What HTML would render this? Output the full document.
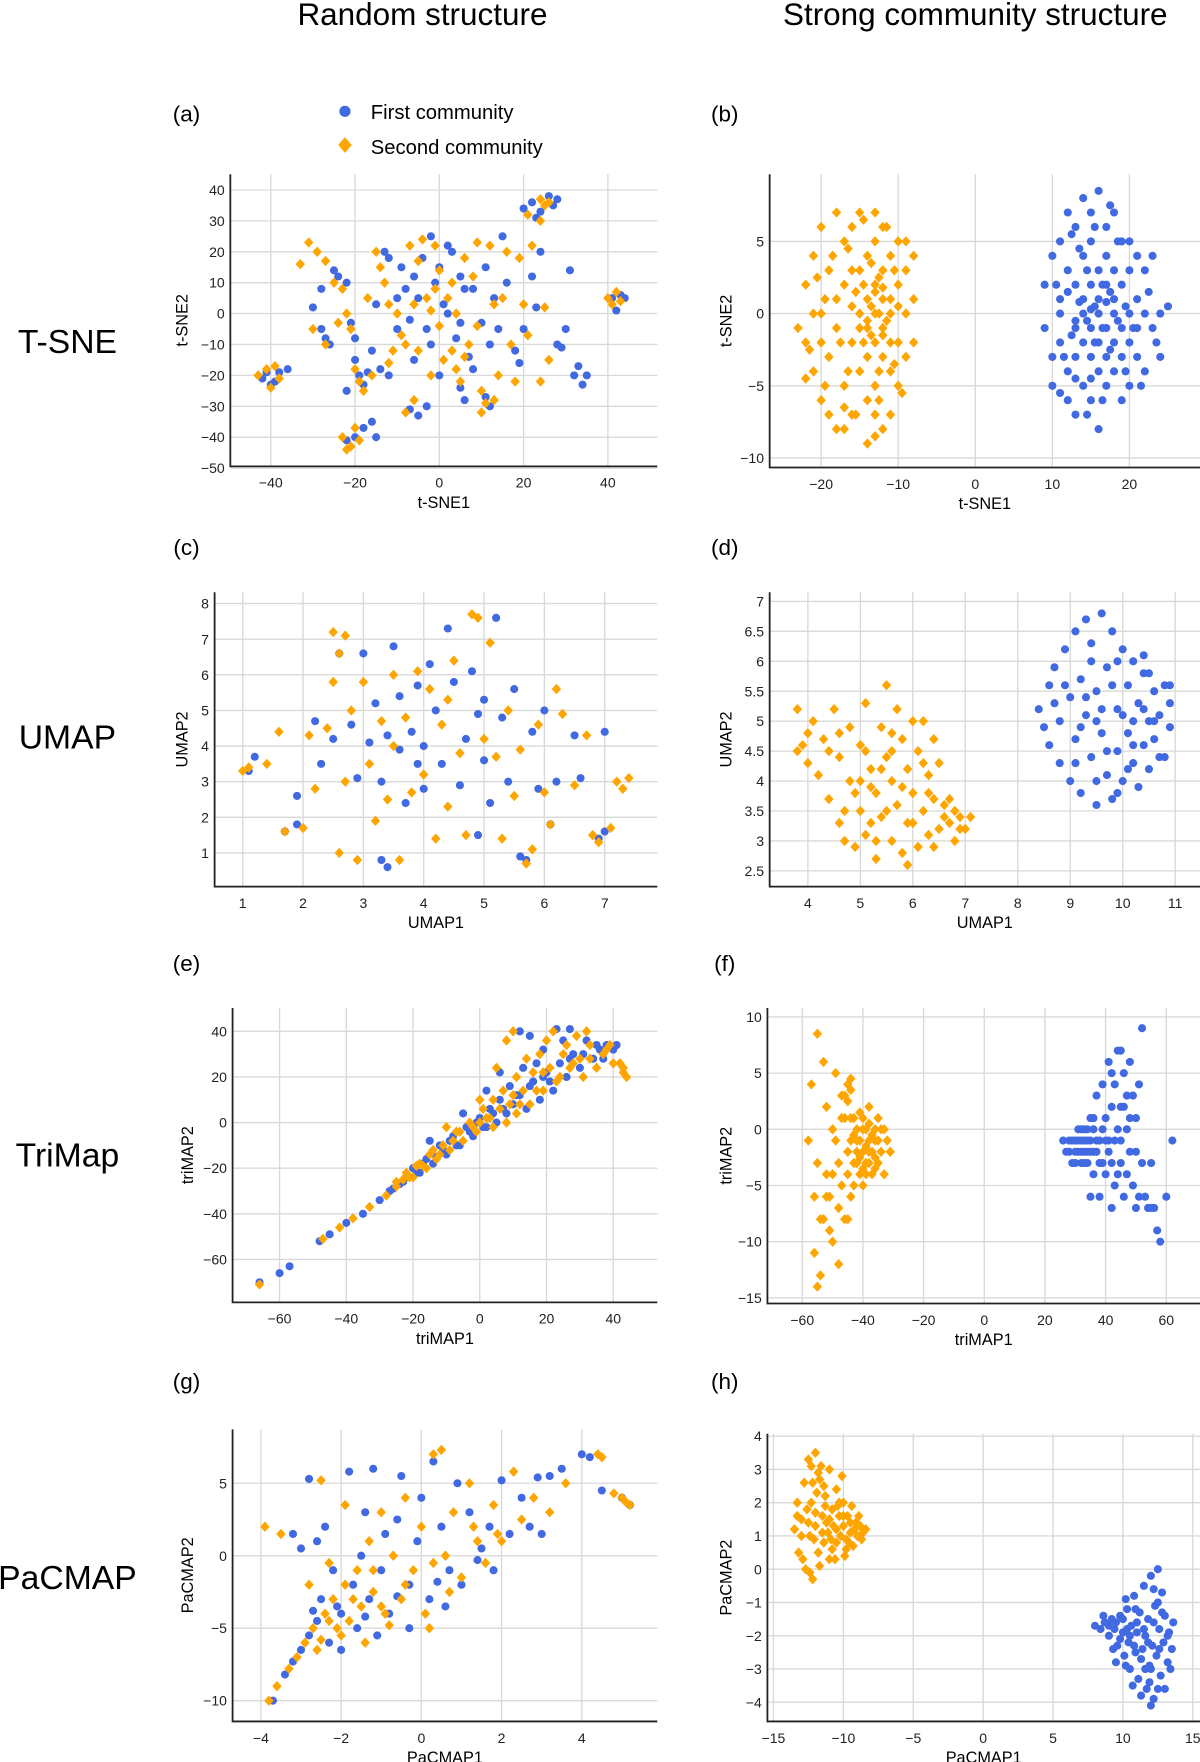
<!DOCTYPE html>
<html><head><meta charset="utf-8"><style>
html,body{margin:0;padding:0;background:#fff;}
svg{display:block;font-family:"Liberation Sans",Arial,sans-serif;}
</style></head><body>
<svg id="fig" width="1200" height="1762" viewBox="0 0 1068 1568" xmlns="http://www.w3.org/2000/svg">
<text x="376" y="22" font-size="28" text-anchor="middle">Random structure</text>
<text x="868" y="22" font-size="28" text-anchor="middle">Strong community structure</text>
<text x="60" y="314" font-size="30" text-anchor="middle">T-SNE</text>
<text x="60" y="666" font-size="30" text-anchor="middle">UMAP</text>
<text x="60" y="1038" font-size="30" text-anchor="middle">TriMap</text>
<text x="60" y="1414" font-size="30" text-anchor="middle">PaCMAP</text>
<g>
<circle cx="307" cy="99" r="5" fill="#4169E1"/>
<text x="330" y="106" font-size="18">First community</text>
<path d="M307 122 L313 129 L307 136 L301 129 Z" fill="#FFA500"/>
<text x="330" y="137" font-size="18">Second community</text>
</g>
</svg>
<script>
// ---- data (data coordinates) ----
const aBlue=[[20,34],[22,36],[24,33],[26,38],[28,37],[23,31],[27,35],[-42,-21],[-40,-23],[-38,-19],[-36,-18],[-39,-22],[-41,-19],[-22,-41],[-20,-40],[-18,-37],[-16,-35],[-15,-40],[41,5],[43,6],[42,1],[44,5],[-30,2],[-28,-5],[-27,-8],[-26,-10],[-28,8],[-25,14],[-24,12],[-22,10],[-21,-3],[-20,-8],[-19,-20],[-18,-23],[-22,-25],[-20,-15],[-17,-19],[-14,-18],[-13,20],[-12,18],[-10,5],[-9,15],[-8,8],[-7,-2],[-6,12],[-5,5],[-4,18],[-3,-5],[-2,-10],[-1,10],[0,15],[1,3],[2,0],[2,22],[3,20],[4,-8],[5,-3],[5,12],[6,8],[7,-14],[8,-18],[10,-3],[11,15],[12,-10],[13,5],[14,-5],[15,25],[16,10],[18,-12],[19,-16],[20,-5],[22,12],[23,2],[24,20],[28,-10],[29,-11],[30,-5],[31,14],[32,-20],[33,-17],[34,-23],[35,-20],[11,-27],[12,-30],[-7,-31],[-5,-33],[-3,-30],[-10,-5],[-12,-20],[0,-20],[5,-24],[6,-28],[-15,3],[-16,-12],[-2,25],[8,8],[-6,-15]];
const aOrange=[[21,32],[24,37],[25,35],[26,36],[24,30],[-43,-20],[-41,-18],[-40,-24],[-38,-21],[-39,-17],[-23,-40],[-21,-43],[-20,-37],[-19,-41],[-22,-44],[40,5],[42,7],[43,4],[41,3],[-33,16],[-31,23],[-29,20],[-27,17],[-25,10],[-23,8],[-22,0],[-21,-5],[-19,-22],[-20,-18],[-18,-25],[-16,-20],[-15,20],[-14,15],[-13,10],[-12,3],[-11,-12],[-10,0],[-9,-7],[-8,-10],[-7,22],[-6,3],[-5,-12],[-4,24],[-3,5],[-2,-20],[-1,8],[0,14],[1,-15],[2,5],[3,-12],[4,-18],[5,-22],[6,18],[7,-10],[8,12],[9,23],[10,-25],[11,-29],[12,22],[13,3],[14,-20],[15,5],[17,-10],[18,-22],[19,18],[20,3],[21,-7],[22,22],[24,-22],[25,2],[26,-15],[-30,-5],[-27,-10],[-24,-3],[-17,5],[-5,17],[3,10],[9,-4],[-8,-32],[-6,-28],[10,-32],[13,-28],[-2,1],[0,-4],[-1,22],[6,-14],[-12,-16],[16,20],[4,0]];
const bBlue=[[9,-1],[9,2],[10,-3],[10,4],[10,-5],[11,0],[11,1],[11,-2],[11,5],[12,-4],[12,3],[12,-6],[12,7],[13,-1],[13,2],[13,-3],[13,6],[13,-7],[14,0],[14,1],[14,-2],[14,4],[14,-5],[14,8],[15,-1],[15,2],[15,-3],[15,5],[15,-6],[15,7],[16,0],[16,1],[16,-2],[16,3],[16,-4],[16,-8],[16,8.5],[17,-1],[17,2],[17,-3],[17,4],[17,-5],[17,6],[18,0],[18,1],[18,-2],[18,3],[18,-4],[18,7],[19,-1],[19,2],[19,-3],[19,5],[19,-6],[20,0],[20,-2],[20,3],[20,-5],[21,1],[21,-1],[21,4],[21,-3],[22,0],[22,-4],[22,3],[23,-1],[23,4],[24,0],[24,-3],[25,0.5],[12,1.5],[15,0.3],[17,0.8],[13,-0.5],[15.5,0.5],[16.5,-1],[14.5,-0.5],[17.5,1.5],[13.5,0.8],[16.5,2],[15.5,-2],[18.5,-0.5],[12.5,-1.5],[19.5,0.5],[14.5,3],[17.5,-2.5],[20.5,-1],[11.5,-3],[22.5,1.5],[13.5,4.5],[18.5,5],[15.5,6],[16.5,-6],[14.5,-7],[21.5,-5],[10.5,2],[23.5,-2],[12.5,5.5],[19.5,-4],[17.5,7.5],[13,-4.5],[20,5],[11,-5.5],[15,-4.5]];
const bOrange=[[-22,-2],[-22,2],[-21,4],[-21,-4],[-20,6],[-20,-6],[-20,0],[-19,3],[-19,-3],[-18,7],[-18,-8],[-18,1],[-18,-1],[-17,5],[-17,-5],[-17,2],[-16,-2],[-16,6],[-16,-7],[-15,0],[-15,3],[-15,-4],[-15,7],[-14,1],[-14,-1],[-14,4],[-14,-6],[-14,-9],[-13,0],[-13,2],[-13,-2],[-13,5],[-13,-5],[-13,7],[-12,1],[-12,-1],[-12,3],[-12,-3],[-12,-8],[-12,6],[-11,0],[-11,4],[-11,-4],[-11,-7],[-10,2],[-10,-2],[-10,5],[-10,-5],[-9,0],[-9,3],[-9,-3],[-8,1],[-8,-2],[-8,4],[-16,0.5],[-14,-0.5],[-13,1.5],[-12,-1.5],[-15,-1],[-11,1],[-19,-7],[-17,-8],[-21,0],[-23,-1],[-14,-3],[-13,-7],[-16,3],[-11,-2],[-10,0.5],[-20,-2],[-13.5,0.5],[-12.5,0],[-14.5,2],[-13.5,-1.5],[-12.5,2.5],[-11.5,-0.5],[-14.5,-2],[-15.5,1.5],[-12.5,-4],[-13.5,3.5],[-16.5,-4],[-17.5,-2],[-19.5,1],[-21.5,-2.5],[-18.5,4],[-10.5,-3.5],[-9.5,-5.5],[-15.5,-7],[-11.5,6],[-14.5,6.5],[-19.5,-5],[-12.5,-6],[-10.5,3],[-16.5,4.5],[-13,-8.5],[-17,-6.5],[-20.5,2.5],[-22,-4.5],[-9,5],[-12,1.8]];
const cBlue=[[1.1,3.3],[1.2,3.7],[1.7,1.6],[1.9,1.8],[1.9,2.6],[2.2,4.7],[2.3,3.5],[2.5,4.2],[2.6,6.6],[2.8,4.6],[2.9,3.1],[3.0,6.6],[3.1,4.1],[3.2,5.2],[3.3,0.8],[3.4,0.6],[3.3,3.0],[3.5,6.8],[3.6,5.4],[3.6,3.9],[3.7,2.4],[3.8,4.4],[3.9,5.7],[4.0,4.0],[4.0,2.8],[4.1,6.3],[4.2,5.0],[4.3,3.5],[4.4,7.3],[4.5,5.8],[4.6,2.9],[4.7,4.2],[4.8,6.1],[4.9,1.5],[5.0,3.6],[5.0,5.3],[5.1,2.4],[5.2,7.6],[5.3,4.8],[5.4,3.0],[5.5,5.6],[5.6,0.9],[5.7,0.8],[5.8,4.4],[5.9,2.8],[6.0,5.0],[6.1,1.8],[6.2,3.0],[6.5,4.3],[6.6,3.1],[6.9,1.4],[7.0,4.4],[7.0,1.6],[3.4,4.3],[4.9,4.9],[3.9,3.5]];
const cOrange=[[1.0,3.3],[1.1,3.4],[1.4,3.5],[1.6,4.4],[1.7,1.6],[2.0,1.7],[2.1,4.3],[2.2,2.8],[2.4,4.5],[2.5,5.8],[2.5,7.2],[2.6,6.6],[2.7,7.1],[2.8,5.0],[2.7,3.0],[2.6,1.0],[2.9,0.8],[3.0,5.8],[3.1,3.5],[3.2,1.9],[3.3,4.7],[3.4,2.5],[3.5,6.0],[3.6,0.8],[3.7,4.8],[3.8,2.7],[3.9,6.1],[4.0,3.2],[4.1,5.6],[4.2,1.4],[4.3,4.6],[4.4,2.3],[4.5,6.4],[4.6,3.8],[4.7,1.5],[4.8,7.7],[4.9,7.6],[5.0,4.2],[5.1,6.9],[5.2,3.7],[5.3,1.4],[5.4,5.0],[5.5,2.6],[5.6,3.9],[5.7,0.7],[5.8,1.1],[5.9,4.6],[6.0,2.7],[6.1,1.8],[6.2,5.6],[6.3,4.9],[6.5,2.9],[6.7,4.3],[6.8,1.5],[6.9,1.3],[7.2,3.0],[7.3,2.8],[7.4,3.1],[7.1,1.7],[4.4,5.3],[3.5,4.0]];
const dBlue=[[8.4,5.2],[8.5,4.9],[8.6,5.6],[8.6,4.6],[8.7,5.9],[8.8,5.0],[8.8,4.3],[8.9,6.2],[9.0,5.4],[9.0,4.0],[9.1,6.5],[9.1,4.7],[9.2,5.7],[9.2,3.8],[9.3,6.7],[9.3,5.1],[9.4,4.4],[9.4,6.0],[9.5,3.6],[9.5,5.5],[9.6,6.8],[9.6,4.8],[9.7,4.1],[9.7,5.9],[9.8,6.5],[9.8,3.7],[9.9,5.2],[9.9,4.5],[10.0,6.2],[10.0,4.0],[10.1,5.6],[10.1,4.8],[10.2,6.0],[10.2,4.3],[10.3,5.3],[10.3,3.9],[10.4,5.8],[10.4,4.6],[10.5,5.0],[10.5,4.2],[10.6,5.5],[10.6,4.7],[10.7,5.1],[10.7,4.4],[10.8,5.6],[10.9,4.9],[10.9,5.3],[9.5,5.0],[9.8,5.6],[10.2,5.0],[9.3,5.4],[9.6,5.2],[10,5.1],[10.4,5.2],[9.2,4.9],[9.7,4.5],[10.2,4.6],[10.6,5.0],[9.4,6.3],[9.9,6.0],[10.5,5.8],[8.9,5.6],[9.1,4.3],[10.1,4.2],[10.8,4.4],[9.5,4.0],[10.4,6.1],[8.7,5.3],[10.9,5.6],[9.9,3.8]];
const dOrange=[[3.8,5.2],[3.8,4.5],[4.0,4.3],[4.1,5.0],[4.2,4.1],[4.3,4.7],[4.4,3.7],[4.5,5.2],[4.6,3.3],[4.6,4.4],[4.7,3.0],[4.8,4.0],[4.8,4.9],[4.9,2.9],[5.0,3.5],[5.0,4.6],[5.1,5.3],[5.1,3.1],[5.2,4.2],[5.3,3.8],[5.3,2.7],[5.4,4.9],[5.4,3.4],[5.5,5.6],[5.5,4.4],[5.6,3.0],[5.6,4.0],[5.7,5.2],[5.7,3.6],[5.8,2.8],[5.8,4.7],[5.9,3.3],[5.9,4.2],[6.0,5.0],[6.0,3.8],[6.1,2.9],[6.1,4.5],[6.2,3.5],[6.2,5.0],[6.3,4.1],[6.3,3.1],[6.4,4.7],[6.4,3.7],[6.5,3.2],[6.5,4.3],[6.6,3.6],[6.7,3.3],[6.8,3.0],[6.8,3.5],[6.9,3.4],[7.0,3.2],[7.1,3.4],[5.2,3.9],[5.6,4.5],[4.4,4.5],[5.0,4.0],[5.5,3.5],[6,3.3],[6.6,3.4],[6.9,3.2],[5.2,3.3],[4.9,3.8],[5.8,3.9],[6.3,3.8],[5.4,4.2],[4.6,4.8],[4.0,4.8],[3.9,4.6],[5.6,4.8],[6.7,3.7],[6.4,2.9],[5.1,4.5],[4.7,3.5],[5.9,2.6],[5.3,3.0],[6.2,4.3]];
const eBlue=[[-66,-70],[-60,-66],[-57,-63],[-48,-52],[-45,-49],[-40,-44],[-35,-40],[-30,-34],[-27,-30],[-24,-27],[-22,-24],[-20,-20],[-18,-22],[-16,-16],[-14,-18],[-12,-10],[-10,-14],[-8,-6],[-6,-10],[-4,-2],[-2,-6],[0,2],[2,-2],[3,6],[5,0],[6,10],[8,4],[9,16],[10,8],[12,12],[13,24],[14,6],[16,18],[17,26],[18,10],[20,22],[22,14],[24,26],[25,36],[26,20],[28,30],[30,24],[32,36],[34,28],[36,32],[38,34],[40,32],[41,34],[12,40],[15,38],[19,32],[6,22],[-5,4],[-15,-8],[2,14],[23,41],[27,41],[-26,-29],[-23,-26],[-19,-22],[-17,-18],[-13,-15],[-11,-12],[-9,-8],[-7,-10],[-3,-4],[-1,0],[1,-2],[4,4],[7,6],[11,12],[15,16],[19,20],[21,18],[27,28],[31,30],[35,34],[37,28]];
const eOrange=[[-66,-71],[-47,-51],[-42,-46],[-38,-42],[-33,-37],[-28,-32],[-25,-28],[-23,-25],[-21,-24],[-19,-19],[-17,-19],[-15,-14],[-13,-16],[-11,-10],[-9,-12],[-7,-4],[-5,-8],[-3,0],[-1,-4],[1,6],[2,2],[4,10],[4,-2],[7,14],[8,0],[9,8],[11,20],[11,4],[13,14],[14,28],[15,8],[16,22],[18,30],[19,14],[21,24],[22,40],[23,18],[25,30],[27,24],[29,38],[30,28],[31,20],[33,34],[35,24],[37,30],[39,34],[42,26],[43,22],[44,20],[43,24],[10,40],[8,36],[5,24],[-10,-2],[0,10],[20,36],[32,40],[26,34],[-25,-26],[-22,-22],[-20,-24],[-18,-18],[-16,-20],[-14,-12],[-12,-14],[-8,-8],[-6,-4],[-2,-2],[0,0],[3,2],[6,6],[10,12],[12,8],[17,14],[19,22],[24,20],[28,26],[33,28],[38,32],[40,26]];
const fBlue=[[26,-1],[27,-2],[28,-1],[29,-3],[30,-1],[31,-2],[31,0],[32,-3],[32,-1],[33,-2],[33,0],[34,-3],[34,-1],[35,-2],[35,1],[36,-4],[36,0],[37,-2],[37,3],[38,-6],[38,-1],[39,4],[39,-3],[40,1],[40,-4],[41,6],[41,-2],[42,2],[42,-7],[43,4],[43,-1],[44,-4],[44,7],[45,2],[45,-3],[46,5],[46,-6],[47,0],[47,3],[48,-2],[48,6],[49,-5],[50,1],[50,-7],[51,4],[52,9],[52,-3],[53,-6],[54,-7],[55,-3],[56,-7],[57,-9],[58,-10],[60,-6],[62,-1],[35,-6],[30,-3],[45,-1],[32,-2],[33,-1],[34,-2],[31,-1],[30,-2],[33,-3],[35,-1],[36,-2],[34,0],[32,0],[29,-1],[28,-2],[37,-1],[38,-3],[36,1],[39,0],[41,-1],[40,-1],[42,-3],[44,0],[46,2],[48,1],[43,-5],[47,-4],[50,-2],[51,-6],[55,-7],[42,5],[45,7],[49,3]];
const fOrange=[[-58,-1],[-57,4],[-56,-6],[-56,-11],[-55,8.5],[-55,-14],[-54,-13],[-53,-8],[-53,6],[-52,2],[-52,-4],[-51,-6],[-50,-10],[-50,0],[-49,-1],[-48,-3],[-47,1],[-47,-5],[-46,3],[-45,4],[-45,-2],[-44,-1],[-44,3.5],[-43,-3],[-43,1],[-42,-2],[-42,0],[-41,-1],[-41,-4],[-40,1],[-40,-2],[-39,-3],[-39,0],[-38,-1],[-38,2],[-37,-2],[-37,-4],[-36,0],[-36,-1],[-35,-3],[-35,1],[-34,-2],[-33,0],[-32,-1],[-31,-2],[-33,-4],[-48,-7],[-46,-8],[-51,-9],[-49,5],[-40,-5],[-44,-6],[-42,-3],[-38,-3],[-41,-2.5],[-39,-1.5],[-40,0],[-42,-1],[-38,0.5],[-37,-0.5],[-36,-2.5],[-43,-0.5],[-44,1],[-45,-4],[-39,-4],[-41,1.5],[-35,-1],[-34,0],[-46,1],[-47,3],[-44,4.5],[-45,2.5],[-43,-5],[-40,-3.5],[-38,-2],[-36,-3.5],[-50,-4],[-52,-6],[-54,-8],[-55,-3],[-45,-8],[-48,-12]];
const gBlue=[[-3.7,-10],[-3.4,-8.2],[-3.2,-7.3],[-3,-6.5],[-2.8,-5.5],[-2.6,-4.5],[-2.5,-3],[-2.3,-6],[-2.2,-1],[-2,-4],[-1.8,5.8],[-1.7,-2],[-1.6,-5],[-1.4,3],[-1.3,-3],[-1.2,6],[-1,-1],[-0.8,-4],[-0.6,2.5],[-0.5,5.5],[-0.3,-2],[-0.1,1],[0,4],[0.2,-3],[0.3,6.5],[0.5,2],[0.7,-1],[0.9,5],[1,-2],[1.2,3],[1.5,0.5],[1.7,2],[2,5.2],[2.2,1.5],[2.5,4],[2.7,2],[3,1.5],[3.2,5.5],[3.5,6],[4,7],[4.5,4.5],[5,4],[5.2,3.5],[-3.2,1.5],[-3,0.5],[-2.6,1],[-2.8,5.3],[-2.4,2],[-1.5,0],[-0.3,-5],[0.6,-3.5],[-2,-6.5],[1.4,-0.3],[2.9,5.4],[4.2,6.8],[-2.1,-3.5],[-1.4,-4.2],[-0.6,-2.8],[0.4,-1.8],[-1.1,-5.5],[-2.7,-3.8],[-0.9,1.5],[1.8,-1]];
const gOrange=[[-3.8,-10],[-3.6,-9],[-3.3,-7.8],[-3.1,-7],[-2.9,-6],[-2.7,-5],[-2.5,-5.8],[-2.4,-4],[-2.2,-3],[-2.1,-5],[-1.9,-2],[-1.8,-4.5],[-1.6,-1],[-1.5,-3.5],[-1.3,1],[-1.2,-2.5],[-1,3],[-0.9,-4],[-0.7,0],[-0.5,-3],[-0.4,4],[-0.2,-1],[0,2],[0.1,-4],[0.3,7],[0.5,7.3],[0.6,0],[0.8,3],[1,-1.5],[1.2,5],[1.4,1],[1.6,-0.5],[1.8,3.5],[2,1],[2.3,5.8],[2.5,2.5],[2.8,4],[3.2,3],[3.6,5],[4.4,7],[4.5,6.8],[4.8,4.3],[5,4],[5.1,3.7],[5.2,3.5],[-3.9,2],[-3.5,1.5],[-2.5,5.2],[-2.3,-0.5],[-1.4,-6],[-0.8,-4.8],[0.2,-5],[1.9,1.5],[-2.8,-2],[-1.9,3.5],[-2.6,-6.5],[-2,-5.5],[-1.7,-3],[-1,-3.5],[-0.4,-2],[0.7,-2.5],[-2.3,-4.5],[-1.2,-1],[0.3,-0.5],[1.3,2]];
const hBlue=[[8,-1.7],[8.4,-1.8],[8.7,-1.6],[9,-2],[9.2,-1.5],[9.4,-1.8],[9.6,-2.3],[9.8,-1.4],[10,-1.9],[10.1,-2.6],[10.3,-1.2],[10.4,-2.2],[10.5,-3],[10.6,-1.7],[10.8,-0.8],[10.9,-2.5],[11,-1.9],[11.1,-3.3],[11.2,-1.3],[11.3,-2.7],[11.5,-0.5],[11.6,-2],[11.7,-3.6],[11.8,-1.5],[11.9,-2.9],[12,-0.2],[12.1,-2.3],[12.2,-3.9],[12.3,-1.1],[12.4,-2.6],[12.5,0],[12.6,-1.8],[12.7,-3.2],[12.8,-0.7],[12.9,-2.2],[13,-1.4],[13.2,-2.8],[13.3,-1.9],[13.5,-2.4],[13.6,-1.6],[9.5,-2.8],[10.2,-0.9],[11.4,-2.4],[12,-4.1],[10.7,-3.5],[13,-3.6],[9,-1.7],[9.5,-1.6],[10,-1.5],[10.5,-2],[11,-1.6],[11.5,-1.8],[10.8,-2.3],[10.3,-1.8],[11.8,-2.2],[12.2,-1.6],[12.6,-2.4],[12,-3],[11.6,-3],[12.5,-1],[12.2,-0.6],[12.8,-1.3],[13.2,-2],[9.8,-2.1],[10.9,-1.2],[11.3,-3.8],[12.5,-3.6],[11.9,-3.4],[10.2,-2.9],[13.4,-3],[8.6,-1.4],[9.3,-2.4]];
const hOrange=[[-13.5,1.2],[-13.3,2],[-13.2,0.5],[-13,1.5],[-12.8,2.6],[-12.7,0],[-12.5,3.3],[-12.4,1],[-12.3,2],[-12.2,-0.3],[-12,3.5],[-12,1.3],[-11.8,0.5],[-11.7,2.7],[-11.5,1.6],[-11.4,0.8],[-11.3,2.2],[-11.1,1.1],[-11,3],[-11,0.3],[-10.8,1.8],[-10.7,1.3],[-10.5,2.4],[-10.5,0.8],[-10.3,1.6],[-10.2,1.0],[-10,2],[-10,1.3],[-9.8,0.6],[-9.7,1.6],[-9.5,1.1],[-9.4,1.9],[-9.3,0.7],[-9.1,1.4],[-9,1.0],[-8.8,1.3],[-8.6,1.1],[-8.4,1.2],[-12.6,1.8],[-11.9,2.3],[-11.2,1.4],[-10.9,0.9],[-12.1,0.9],[-10.1,2.8],[-11.6,3.1],[-9.9,0.4],[-10.5,1.2],[-11,1.5],[-10,1.6],[-9.5,1.4],[-11.5,1.1],[-12,1.7],[-10.8,0.6],[-9.8,0.9],[-11.3,1.9],[-10.3,2.0],[-12.5,1.4],[-13,1.0],[-12.2,2.6],[-11.8,2.9],[-12.3,3.1],[-9.2,1.2],[-8.9,1.6],[-10.6,0.3],[-11.7,0.1],[-12.9,0.3],[-12.4,-0.1],[-13.3,1.6],[-11.4,2.5],[-10.4,1.9],[-9.6,0.8],[-8.7,0.9]];
// tick labels
const aXTicks=[-40,-20,0,20,40], aYTicks=[-50,-40,-30,-20,-10,0,10,20,30,40];
const bXTicks=[-20,-10,0,10,20], bYTicks=[-10,-5,0,5];
const cXTicks=[1,2,3,4,5,6,7], cYTicks=[1,2,3,4,5,6,7,8];
const dXTicks=[4,5,6,7,8,9,10,11], dYTicks=[2.5,3,3.5,4,4.5,5,5.5,6,6.5,7];
const eXTicks=[-60,-40,-20,0,20,40], eYTicks=[-60,-40,-20,0,20,40];
const fXTicks=[-60,-40,-20,0,20,40,60], fYTicks=[-15,-10,-5,0,5,10];
const gXTicks=[-4,-2,0,2,4], gYTicks=[-10,-5,0,5];
const hXTicks=[-15,-10,-5,0,5,10,15], hYTicks=[-4,-3,-2,-1,0,1,2,3,4];

const NS='http://www.w3.org/2000/svg';
const svg=document.getElementById('fig');
function mk(tag,attrs,parent){const e=document.createElementNS(NS,tag);for(const k in attrs)e.setAttribute(k,attrs[k]);(parent||svg).appendChild(e);return e;}
function fmt(v){return v<0?'\u2212'+Math.abs(v):String(v);}
const panels=[
 {id:'a',lab:'(a)',lx:166,ly:101,L:205,R:585,T:155,B:415,xv:0,xp:391,xs:3.75,yv:0,yp:279,ys:2.75,xt:aXTicks,yt:aYTicks,xn:'t-SNE1',yn:'t-SNE2',yx:167,blue:aBlue,orange:aOrange},
 {id:'b',lab:'(b)',lx:645,ly:101,L:685,R:1068,T:155,B:416,xv:0,xp:868,xs:6.86,yv:0,yp:279,ys:12.85,xt:bXTicks,yt:bYTicks,xn:'t-SNE1',yn:'t-SNE2',yx:651,blue:bBlue,orange:bOrange},
 {id:'c',lab:'(c)',lx:166,ly:487,L:191,R:585,T:527,B:789,xv:1,xp:216,xs:53.7,yv:1,yp:759,ys:31.7,xt:cXTicks,yt:cYTicks,xn:'UMAP1',yn:'UMAP2',yx:167,blue:cBlue,orange:cOrange},
 {id:'d',lab:'(d)',lx:645,ly:487,L:685,R:1068,T:527,B:789,xv:4,xp:719,xs:46.7,yv:2.5,yp:775,ys:53.3,xt:dXTicks,yt:dYTicks,xn:'UMAP1',yn:'UMAP2',yx:651,blue:dBlue,orange:dOrange},
 {id:'e',lab:'(e)',lx:166,ly:857,L:207,R:585,T:897,B:1159,xv:0,xp:427,xs:2.97,yv:0,yp:999,ys:2.03,xt:eXTicks,yt:eYTicks,xn:'triMAP1',yn:'triMAP2',yx:172,blue:eBlue,orange:eOrange},
 {id:'f',lab:'(f)',lx:645,ly:857,L:683,R:1068,T:897,B:1160,xv:0,xp:876,xs:2.7,yv:0,yp:1005,ys:10,xt:fXTicks,yt:fYTicks,xn:'triMAP1',yn:'triMAP2',yx:651,blue:fBlue,orange:fOrange},
 {id:'g',lab:'(g)',lx:166,ly:1229,L:207,R:585,T:1272,B:1532,xv:0,xp:375,xs:35.7,yv:0,yp:1384.5,ys:12.9,xt:gXTicks,yt:gYTicks,xn:'PaCMAP1',yn:'PaCMAP2',yx:172,blue:gBlue,orange:gOrange},
 {id:'h',lab:'(h)',lx:645,ly:1229,L:683,R:1068,T:1276,B:1532,xv:0,xp:875,xs:12.44,yv:0,yp:1396.5,ys:29.6,xt:hXTicks,yt:hYTicks,xn:'PaCMAP1',yn:'PaCMAP2',yx:651,blue:hBlue,orange:hOrange}
];
panels.forEach(p=>{
 const X=v=>p.xp+(v-p.xv)*p.xs, Y=v=>p.yp-(v-p.yv)*p.ys;
 const g=mk('g',{});
 
 
 const t=mk('text',{x:p.lx,y:p.ly+7,'font-size':20,'text-anchor':'middle'},g);t.textContent=p.lab;
 
 
 p.xt.forEach(v=>{
  const l=mk('line',{x1:X(v),x2:X(v),y1:p.T,y2:p.B,stroke:'#d9d9d9','stroke-width':1.2},g);
  
  
  const tx=mk('text',{x:X(v),y:p.B+19,'font-size':12.5,'text-anchor':'middle',fill:'#222'},g);tx.textContent=fmt(v);
  
  
 });
 p.yt.forEach(v=>{
  const l=mk('line',{x1:p.L,x2:p.R,y1:Y(v),y2:Y(v),stroke:'#d9d9d9','stroke-width':1.2},g);
  
  
  const ty=mk('text',{x:p.L-5,y:Y(v)+4.5,'font-size':12.5,'text-anchor':'end',fill:'#222'},g);ty.textContent=fmt(v);
  
  
 });
 const ax=mk('path',{d:`M${p.L} ${p.T} L${p.L} ${p.B} L${p.R} ${p.B}`,fill:'none',stroke:'#222','stroke-width':1.6},g);
 
 
 const xl=mk('text',{x:(p.L+p.R)/2,y:p.B+37,'font-size':14.5,'text-anchor':'middle'},g);xl.textContent=p.xn;
 
 
 const yc=(p.T+p.B)/2;
 const yl=mk('text',{x:p.yx,y:yc,'font-size':14.5,'text-anchor':'middle',transform:`rotate(-90 ${p.yx} ${yc})`},g);yl.textContent=p.yn;
 
 
 p.blue.forEach(d=>{
  const c=mk('circle',{cx:X(d[0]),cy:Y(d[1]),r:3.6,fill:'#4169E1'},g);
  
  
 });
 p.orange.forEach(d=>{
  const x=X(d[0]),y=Y(d[1]);
  const m=mk('path',{d:`M${x} ${y-4.6}L${x+4.2} ${y}L${x} ${y+4.6}L${x-4.2} ${y}Z`,fill:'#FFA500'},g);
  
  
 });
});
</script>
</body></html>
